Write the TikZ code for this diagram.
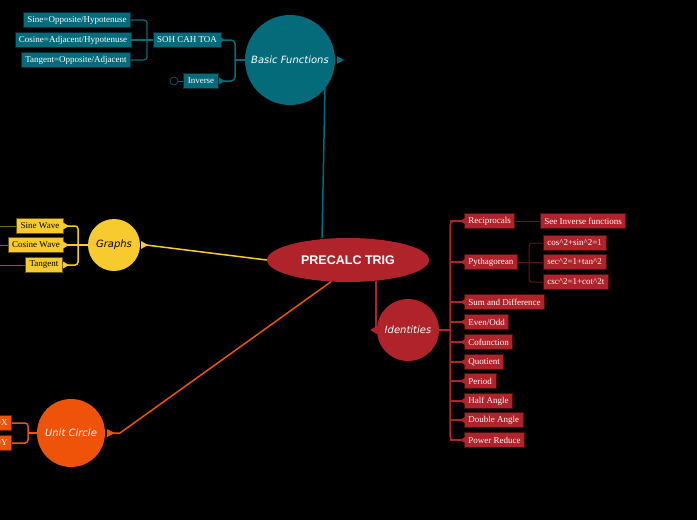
\documentclass[tikz,border=0pt]{standalone}
\usepackage{fontspec}
\setmainfont{Liberation Serif}
\newfontfamily\hand{DejaVu Sans}
\newfontfamily\headf{Liberation Sans}
\usetikzlibrary{shapes.geometric}
\definecolor{teal1}{HTML}{046B7B}
\definecolor{yel}{HTML}{F7CB2D}
\definecolor{ora}{HTML}{EE5309}
\definecolor{red1}{HTML}{B0232A}
\begin{document}
\begin{tikzpicture}[x=1pt,y=-1pt,
 bx/.style={fill=#1,draw=black!60!#1,line width=0.6pt,minimum height=15pt,inner xsep=4pt,inner ysep=1pt,font=\fontsize{9}{10}\selectfont},
 wb/.style={bx=#1,text=white},
 ln/.style={draw=#1,line width=1.5pt},
 th/.style={draw=#1,line width=1.1pt},
 cf/.style={font=\hand\itshape\fontsize{10}{11}\selectfont}]
\useasboundingbox[fill=black] (0,0) rectangle (697,520);
% center
\node[ellipse,fill=red1,minimum width=162pt,minimum height=44pt,text=white,font=\headf\bfseries\fontsize{12.5}{13}\selectfont] (c) at (348,260) {PRECALC TRIG};
% basic functions
\node[circle,fill=teal1,minimum size=90pt,text=white,cf] (bf) at (290,60) {Basic Functions};
\draw[ln=teal1] (322,238) -- (325,88);
\fill[teal1] (337,56) -- (344,60) -- (337,64) -- cycle;
\node[wb=teal1] (soh) at (187,40) {SOH CAH TOA};
\node[wb=teal1] (inv) at (201,81) {Inverse};
\node[wb=teal1] (s1) at (77,20) {Sine=Opposite/Hypotenuse};
\node[wb=teal1] (s2) at (73,40) {Cosine=Adjacent/Hypotenuse};
\node[wb=teal1] (s3) at (76,60) {Tangent=Opposite/Adjacent};
\draw[ln=teal1] (bf.west) -- (235,60);
\draw[ln=teal1,rounded corners=4pt] (soh.east) -- (235,40) -- (235,81) -- (inv.east);
\draw[th=teal1,rounded corners=3pt] (s1.east) -- (147,20) -- (147,60) -- (s3.east);
\draw[th=teal1] (s2.east) -- (soh.west);
\node[circle,draw=teal1,line width=0.6pt,minimum size=8pt,inner sep=0pt] (ic) at (174,81) {};
\draw[teal1,line width=0.6pt] (ic.east) -- (inv.west);
\foreach \y in {40,81}{\fill[teal1] (219,\y-3.5) -- (225,\y) -- (219,\y+3.5) -- cycle;}
% graphs
\node[circle,fill=yel,minimum size=52pt,cf] (g) at (114,245) {Graphs};
\draw[ln=yel] (146,245) -- (c.west);
\fill[yel] (141,241) -- (148,245) -- (141,249) -- cycle;
\node[bx=yel] (g1) at (40,226) {Sine Wave};
\node[bx=yel] (g2) at (36,245) {Cosine Wave};
\node[bx=yel] (g3) at (44,265) {Tangent};
\draw[ln=yel] (g.west) -- (g2.east);
\draw[ln=yel,rounded corners=3pt] (g1.east) -- (78,226) -- (78,265) -- (g3.east);
\foreach \y in {226,245,265}{\fill[yel] (63,\y-3.5) -- (69,\y) -- (63,\y+3.5) -- cycle;}
\foreach \n/\y in {g1/226,g2/245,g3/265}{\draw[yel!50!black,line width=1pt] (\n.west) -- (0,\y);}
% unit circle
\node[circle,fill=ora,minimum size=68pt,text=white,cf] (u) at (71,433) {Unit Circle};
\draw[ln=ora] (108,433) -- (120,433) -- (c.232);
\fill[ora] (107,429) -- (115,433) -- (107,437) -- cycle;
\node[wb=ora,anchor=east] (u1) at (12,423) {=X};
\node[wb=ora,anchor=east] (u2) at (12,443) {=Y};
\draw[ln=ora] (u.west) -- (28,433);
\draw[ln=ora,rounded corners=3pt] (u1.east) -- (28,423) -- (28,443) -- (u2.east);
% identities
\node[circle,fill=red1,minimum size=62pt,text=white,cf] (id) at (408,330) {Identities};
\draw[ln=red1] (376,281) |- (id.west);
\fill[red1] (377,326) -- (370,330) -- (377,334) -- cycle;
\draw[ln=red1] (id.east) -- (450,330);
\draw[ln=red1,rounded corners=4pt] (464,221) -- (450,221) -- (450,440) -- (464,440);
\foreach \n/\t/\y in {r1/Reciprocals/221,r2/Pythagorean/262,r3/Sum and Difference/302,r4/Even\slash Odd/322,r5/Cofunction/342,r6/Quotient/362,r7/Period/381,r8/Half Angle/401,r9/Double Angle/420,r10/Power Reduce/440}{
 \node[wb=red1,anchor=west] (\n) at (464,\y) {\t};
 \draw[ln=red1] (450,\y) -- (\n.west);
 \fill[red1] (466,\y-3.5) -- (460,\y) -- (466,\y+3.5) -- cycle;}
\node[wb=red1,anchor=west] (sif) at (540,221) {See Inverse functions};
\draw[red1!55!black,line width=1pt] (r1.east) -- (sif.west);
\node[wb=red1,anchor=west] (p1) at (543,243) {cos\textasciicircum2+sin\textasciicircum2=1};
\node[wb=red1,anchor=west] (p2) at (543,262) {sec\textasciicircum2=1+tan\textasciicircum2};
\node[wb=red1,anchor=west] (p3) at (543,282) {csc\textasciicircum2=1+cot\textasciicircum2t};
\draw[red1!55!black,line width=1pt] (r2.east) -- (p2.west);
\draw[red1!55!black,line width=1pt,rounded corners=3pt] (p1.west) -- (529,243) -- (529,282) -- (p3.west);
\end{tikzpicture}
\end{document}
